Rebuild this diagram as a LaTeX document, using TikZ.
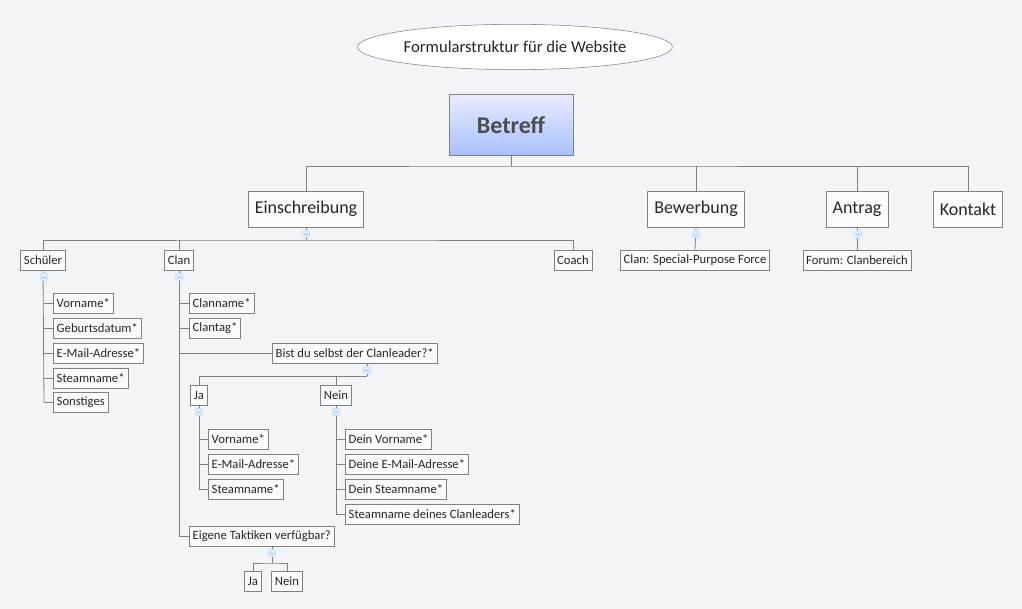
\documentclass[tikz,border=0pt]{standalone}
\usepackage{fontspec}
\setmainfont{Carlito}
\usetikzlibrary{shapes.geometric}
\begin{document}
\begin{tikzpicture}[x=0.75pt,y=-0.75pt,
  every node/.style={font=\fontsize{9.5}{11}\selectfont, text=black!85},
  box/.style={draw=black!50, fill=white!60!bgc, line width=0.6pt, inner sep=2.5pt, minimum height=15pt},
  big/.style={draw=black!50, fill=white!60!bgc, line width=0.6pt, minimum height=27pt, inner xsep=5pt, font=\fontsize{13.5}{15}\selectfont},
  ln/.style={draw=black!50, line width=0.6pt},
  ic/.style={circle, draw=blue!30!cyan!40, fill=blue!8, minimum size=6pt, inner sep=0pt, line width=0.4pt,
    path picture={\draw[blue!40!cyan!50,line width=0.5pt] ([xshift=-1.6pt]path picture bounding box.center)--([xshift=1.6pt]path picture bounding box.center);}}]
\definecolor{bgc}{HTML}{F3F4F8}
\fill[bgc] (0,0) rectangle (1022,609);
\useasboundingbox (0,0) rectangle (1022,609);
% title
\node[ellipse, draw=black!50, fill=white, minimum width=210pt, minimum height=34pt, inner sep=0pt, font=\fontsize{12.5}{14}\selectfont] (title) at (515,47) {Formularstruktur für die Website};
\node[draw=black!50, top color=blue!8!white, bottom color=cyan!30!blue!35, minimum width=93pt, minimum height=46pt, font=\bfseries\fontsize{18}{20}\selectfont, text=black!70] (betreff) at (511,125) {Betreff};
% level 1
\node[big] (ein) at (306,209) {Einschreibung};
\node[big] (bew) at (696,209) {Bewerbung};
\node[big] (ant) at (857,209) {Antrag};
\node[big] (kon) at (968,209) {Kontakt};
\coordinate (b1) at (511,166);
\draw[ln] (betreff.south) -- (b1);
\draw[ln] (ein.north) |- (b1) -| (kon.north);
\draw[ln] (bew.north) -- (bew.north|-b1);
\draw[ln] (ant.north) -- (ant.north|-b1);
% level 2
\node[box] (sch) at (43,260) {Schüler};
\node[box] (clan) at (179,260) {Clan};
\node[box] (coach) at (573,260) {Coach};
\node[box] (spf) at (695,260) {Clan: Special-Purpose Force};
\node[box] (forum) at (857,260) {Forum: Clanbereich};
\coordinate (b2) at (306,240);
\draw[ln] (ein.south) -- (b2);
\draw[ln] (sch.north) |- (b2) -| (coach.north);
\draw[ln] (clan.north) -- (clan.north|-b2);
\draw[ln] (bew.south) -- (spf.north);
\draw[ln] (ant.south) -- (forum.north);
% Schüler children
\foreach \n/\t/\y in {s1/Vorname*/303, s2/Geburtsdatum*/328, s3/E-Mail-Adresse*/353, s4/Steamname*/378, s5/Sonstiges/402}
  {\node[box, anchor=west] (\n) at (53,\y) {\t};
   \draw[ln] (44,\y) -- (\n.west);}
\draw[ln] (sch.south) -- (44,402);
% Clan children
\node[box, anchor=west] (c1) at (189,303) {Clanname*};
\node[box, anchor=west] (c2) at (189,328) {Clantag*};
\node[box, anchor=west] (bist) at (272,353) {Bist du selbst der Clanleader?*};
\node[box, anchor=west] (eig) at (189,536) {Eigene Taktiken verfügbar?};
\draw[ln] (clan.south) -- (179,536);
\foreach \n in {c1,c2,bist,eig} \draw[ln] (\n.west) -- (\n.west-|clan.south);
% Ja / Nein
\node[box] (ja) at (199,395) {Ja};
\node[box] (nein) at (336,395) {Nein};
\coordinate (b3) at (367,376);
\draw[ln] (bist.south-|b3) -- (b3);
\draw[ln] (ja.north) |- (b3);
\draw[ln] (nein.north) -- (nein.north|-b3);
\foreach \n/\t/\y in {j1/Vorname*/439, j2/E-Mail-Adresse*/464, j3/Steamname*/489}
  {\node[box, anchor=west] (\n) at (208,\y) {\t};
   \draw[ln] (199,\y) -- (\n.west);}
\draw[ln] (ja.south) -- (199,489);
\foreach \n/\t/\y in {n1/Dein Vorname*/439, n2/Deine E-Mail-Adresse*/464, n3/Dein Steamname*/489, n4/Steamname deines Clanleaders*/514}
  {\node[box, anchor=west] (\n) at (345,\y) {\t};
   \draw[ln] (336,\y) -- (\n.west);}
\draw[ln] (nein.south) -- (336,514);
% Eigene Taktiken children
\node[box] (tja) at (253,581) {Ja};
\node[box] (tnein) at (287,581) {Nein};
\coordinate (b4) at (272,563);
\draw[ln] (eig.south-|b4) -- (b4);
\draw[ln] (tja.north) |- (b4) -| (tnein.north);
% collapse icons
\foreach \p/\nm in {{(306,234)}/i1,{(696,234)}/i2,{(858,234)}/i3,{(44,277)}/i4,{(179,277)}/i5,{(367,370)}/i6,{(199,412)}/i7,{(336,412)}/i8,{(272,553)}/i9}
  \node[ic] (\nm) at \p {};
\end{tikzpicture}
\end{document}
